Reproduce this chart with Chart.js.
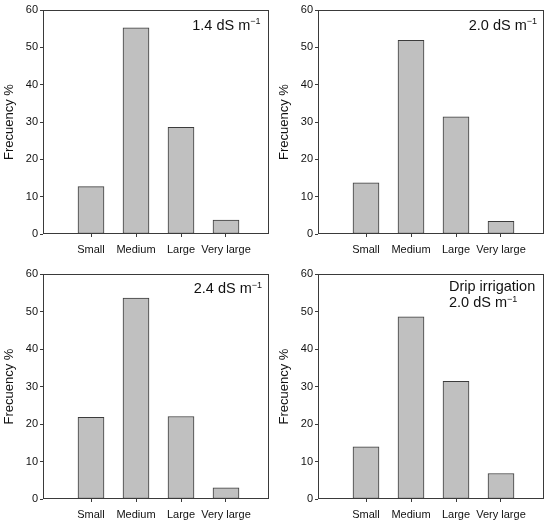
<!DOCTYPE html>
<html>
<head>
<meta charset="utf-8">
<script src="https://cdn.jsdelivr.net/npm/chart.js@4.4.1/dist/chart.umd.min.js"></script>
<style>
  html, body { margin: 0; padding: 0; background: #fff; }
  #wrap { position: relative; width: 550px; height: 526px; }
  .cell { position: absolute; width: 275px; height: 263px; }
</style>
</head>
<body>
<div id="wrap">
  <div class="cell" style="left:0;top:0"><canvas id="c1" width="275" height="263"></canvas></div>
  <div class="cell" style="left:275px;top:0"><canvas id="c2" width="275" height="263"></canvas></div>
  <div class="cell" style="left:0;top:263px"><canvas id="c3" width="275" height="263"></canvas></div>
  <div class="cell" style="left:275px;top:263px"><canvas id="c4" width="275" height="263"></canvas></div>
</div>
<script>
// ---- data ----
const categories = ['Small', 'Medium', 'Large', 'Very large'];
const freq14 = [12.7, 55.2, 28.6, 3.7];
const freq20 = [13.7, 51.9, 31.4, 3.4];
const freq24 = [21.8, 53.6, 22.0, 3.0];
const freqDrip20 = [13.9, 48.6, 31.4, 6.8];
const yTicks = [0, 10, 20, 30, 40, 50, 60];
const yTitle = 'Frecuency %';
const label14 = [[['1.4 dS m', false], ['\u22121', true]]];
const label20 = [[['2.0 dS m', false], ['\u22121', true]]];
const label24 = [[['2.4 dS m', false], ['\u22121', true]]];
const labelDrip = [[['Drip irrigation', false]], [['2.0 dS m', false], ['\u22121', true]]];

const FONT = "'Liberation Sans', Arial, sans-serif";
const AXIS = '#3a3a3a';

const framePlugin = {
  id: 'frame',
  afterDraw(chart) {
    const a = chart.chartArea, ctx = chart.ctx;
    ctx.save();
    ctx.strokeStyle = AXIS;
    ctx.lineWidth = 1;
    ctx.strokeRect(Math.round(a.left) + 0.5, Math.round(a.top) + 0.5,
                   Math.round(a.right - a.left) - 1, Math.round(a.bottom - a.top) - 1);
    ctx.restore();
  }
};

const notePlugin = {
  id: 'note',
  afterDraw(chart, args, opts) {
    const ctx = chart.ctx;
    const a = chart.chartArea;
    ctx.save();
    ctx.fillStyle = '#111';
    ctx.textBaseline = 'alphabetic';
    ctx.textAlign = 'left';
    opts.lines.forEach((line, li) => {
      let w = 0;
      line.forEach(([t, sup]) => {
        ctx.font = (sup ? opts.supSize : opts.size) + 'px ' + FONT;
        w += ctx.measureText(t).width;
      });
      let x = opts.align === 'right' ? a.right - opts.dx - w : a.left + opts.dx;
      const y = a.top + opts.dy + li * opts.lineGap;
      line.forEach(([t, sup]) => {
        ctx.font = (sup ? opts.supSize : opts.size) + 'px ' + FONT;
        ctx.fillText(t, x, sup ? y - opts.supRaise : y);
        x += ctx.measureText(t).width;
      });
    });
    ctx.restore();
  }
};

function makeChart(id, values, note, top, xHeight) {
  const data = values.map((v, i) => ({ x: i + 1, y: v }));
  return new Chart(document.getElementById(id), {
    type: 'bar',
    data: {
      datasets: [{
        data: data,
        backgroundColor: '#c0c0c0',
        borderColor: '#3c3c3c',
        borderWidth: 1,
        borderSkipped: false,
        barThickness: 26
      }]
    },
    options: {
      responsive: false,
      animation: false,
      layout: { padding: { left: 0, right: 6, top: top, bottom: 0 } },
      plugins: {
        legend: { display: false },
        tooltip: { enabled: false },
        note: note
      },
      scales: {
        x: {
          type: 'linear',
          min: 1 - 48 / 45,
          max: 1 + 178 / 45,
          offset: false,
          border: { display: false },
          grid: { offset: false, drawOnChartArea: false, drawTicks: true, tickLength: 3, color: AXIS, tickColor: AXIS },
          ticks: {
            autoSkip: false, maxRotation: 0, padding: 6,
            color: '#111', font: { family: FONT, size: 11 },
            callback: (v) => categories[v - 1]
          },
          afterBuildTicks: (scale) => { scale.ticks = categories.map((c, i) => ({ value: i + 1 })); },
          afterFit: (scale) => { scale.height = xHeight; scale.paddingLeft = 0; scale.paddingRight = 0; }
        },
        y: {
          min: 0, max: 60,
          border: { display: false },
          grid: { drawOnChartArea: false, drawTicks: true, tickLength: 3, color: AXIS, tickColor: AXIS },
          ticks: {
            padding: 2, color: '#111', font: { family: FONT, size: 11 }
          },
          afterBuildTicks: (scale) => { scale.ticks = yTicks.map(v => ({ value: v })); },
          title: {
            display: true, text: yTitle, color: '#111',
            font: { family: FONT, size: 13 },
            padding: { top: 1.5, bottom: 0 }
          },
          afterFit: (scale) => { scale.width = 43; scale.paddingTop = 0; scale.paddingBottom = 0; }
        }
      }
    },
    plugins: [framePlugin, notePlugin]
  });
}

makeChart('c1', freq14,
  { lines: label14, align: 'right', dx: 8.5, dy: 19.5, lineGap: 17, size: 14.5, supSize: 9, supRaise: 5.5 }, 10, 29);
makeChart('c2', freq20,
  { lines: label20, align: 'right', dx: 7, dy: 19.5, lineGap: 17, size: 14.5, supSize: 9, supRaise: 5.5 }, 10, 29);
makeChart('c3', freq24,
  { lines: label24, align: 'right', dx: 7, dy: 19, lineGap: 17, size: 14.5, supSize: 9, supRaise: 5.5 }, 11, 27);
makeChart('c4', freqDrip20,
  { lines: labelDrip, align: 'left', dx: 131, dy: 16.5, lineGap: 16.5, size: 14.5, supSize: 9, supRaise: 5.5 }, 11, 27);
</script>
</body>
</html>
